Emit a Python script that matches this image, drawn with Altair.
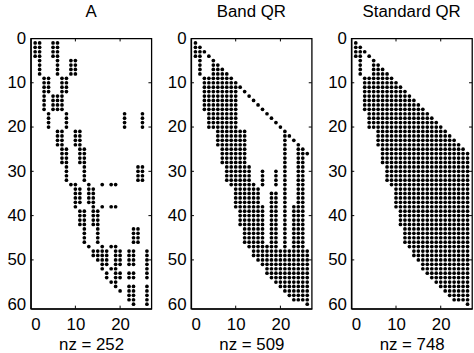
import altair as alt
import pandas as pd

titles = ["A", "Band QR", "Standard QR"]
nz_labels = ["nz = 252", "nz = 509", "nz = 748"]
x_ticks = [0, 10, 20]
y_ticks = [0, 10, 20, 30, 40, 50, 60]
x_domain = [0, 27]
y_domain = [0, 61]

# Each row (1..60): list of (first col, last col) runs of nonzeros
A_runs = [
    [(1, 2), (5, 6)], [(1, 2), (5, 6)], [(1, 2), (5, 6)], [(1, 2), (5, 6)],
    [(2, 2), (6, 6), (9, 10)], [(2, 2), (6, 6), (9, 10)], [(2, 2), (6, 6), (9, 10)], [(2, 2), (6, 6), (9, 10)],
    [(3, 4), (7, 8)], [(3, 4), (7, 8)], [(3, 4), (7, 8)], [(3, 4), (7, 8)],
    [(3, 3), (5, 7)], [(3, 3), (5, 7)], [(3, 3), (5, 7)], [(3, 3), (5, 7)],
    [(4, 4), (8, 8), (21, 21), (25, 25)], [(4, 4), (8, 8), (21, 21), (25, 25)],
    [(4, 4), (8, 8), (21, 21), (25, 25)], [(4, 4), (8, 8), (21, 21), (25, 25)],
    [(6, 7), (10, 11)], [(6, 7), (10, 11)], [(6, 7), (10, 11)], [(6, 7), (10, 11)],
    [(7, 8), (11, 12)], [(7, 8), (11, 12)], [(7, 8), (11, 12)], [(7, 8), (11, 12)],
    [(8, 8), (12, 12), (24, 25)], [(8, 8), (12, 12), (24, 25)], [(8, 8), (12, 12), (24, 25)], [(8, 8), (12, 12), (24, 25)],
    [(9, 10), (13, 13), (16, 16), (18, 19)],
    [(10, 11), (13, 14)], [(10, 11), (13, 14)], [(10, 11), (13, 14)], [(10, 11), (13, 14)],
    [(10, 10), (14, 14), (16, 16), (18, 19)],
    [(11, 12), (14, 15)], [(11, 12), (14, 15)], [(11, 12), (14, 15)], [(11, 12), (14, 15)],
    [(12, 12), (15, 15), (23, 24)], [(12, 12), (15, 15), (23, 24)], [(12, 12), (15, 15), (23, 24)], [(12, 12), (15, 15), (23, 24)],
    [(13, 13), (16, 16), (18, 19)],
    [(14, 17), (19, 20), (22, 23), (26, 26)], [(14, 17), (19, 20), (22, 23), (26, 26)],
    [(15, 17), (19, 20), (22, 23), (26, 26)], [(16, 17), (19, 20), (22, 23), (26, 26)],
    [(16, 16), (18, 19), (26, 26)],
    [(17, 17), (19, 20), (22, 23), (26, 26)], [(17, 17), (19, 20), (22, 23), (26, 26)],
    [(18, 19)],
    [(19, 19), (22, 23), (26, 26)], [(20, 20), (22, 23), (26, 26)],
    [(22, 23), (26, 26)], [(22, 23), (26, 26)], [(23, 23), (26, 26)],
]

band_runs = [
    [(1, 1)], [(1, 2)], [(1, 3)], [(1, 2), (4, 4)],
    [(2, 2), (5, 5)], [(2, 2), (5, 6)], [(2, 2), (5, 7)], [(2, 2), (5, 8)],
    [(3, 9)], [(3, 10)], [(3, 11)], [(3, 10), (12, 12)],
    [(3, 10), (13, 13)], [(3, 10), (14, 14)], [(3, 10), (15, 15)], [(3, 10), (16, 16)],
    [(4, 10), (17, 17)], [(4, 10), (18, 18)], [(4, 10), (19, 19)], [(4, 10), (20, 20)],
    [(6, 12), (21, 21)], [(6, 12), (21, 22)], [(6, 12), (21, 21), (23, 23)], [(6, 12), (21, 21), (24, 24)],
    [(7, 12), (21, 21), (24, 25)], [(7, 12), (21, 21), (24, 26)],
    [(7, 12), (21, 21), (24, 25)], [(7, 12), (21, 21), (24, 25)],
    [(8, 13), (21, 21), (24, 25)],
    [(8, 13), (16, 16), (19, 19), (21, 21), (24, 25)],
    [(8, 13), (16, 16), (19, 19), (21, 21), (24, 25)],
    [(8, 13), (16, 16), (19, 19), (21, 21), (24, 25)],
    [(9, 14), (16, 16), (19, 19), (21, 21), (24, 25)],
    [(10, 15), (21, 21), (24, 25)],
    [(10, 15), (18, 19), (21, 21), (24, 25)], [(10, 15), (18, 19), (21, 21), (24, 25)],
    [(10, 15), (18, 19), (21, 21), (24, 25)],
    [(10, 16), (18, 19), (21, 21), (23, 25)],
    [(11, 16), (18, 19), (21, 21), (23, 25)], [(11, 16), (18, 19), (21, 21), (23, 25)],
    [(11, 16), (18, 19), (21, 21), (23, 25)], [(11, 16), (18, 19), (21, 21), (23, 25)],
    [(12, 16), (18, 19), (21, 21), (23, 25)], [(12, 16), (18, 19), (21, 21), (23, 25)],
    [(12, 16), (18, 19), (21, 21), (23, 25)], [(12, 16), (18, 19), (21, 21), (23, 25)],
    [(13, 19), (21, 21), (23, 25)],
    [(14, 26)], [(14, 26)], [(15, 26)], [(16, 26)], [(17, 26)], [(17, 26)],
    [(18, 26)], [(19, 26)], [(20, 26)], [(21, 26)], [(22, 26)], [(23, 26)], [(26, 26)],
]

std_runs = [
    [(1, 1)], [(1, 2)], [(1, 3)], [(1, 2), (4, 4)],
    [(2, 2), (5, 5)], [(2, 2), (5, 6)], [(2, 2), (5, 7)], [(2, 2), (5, 8)],
    [(3, 9)], [(3, 10)], [(3, 11)], [(3, 12)], [(3, 13)], [(3, 14)], [(3, 15)], [(3, 16)],
    [(4, 17)], [(4, 18)], [(4, 19)], [(4, 20)],
    [(6, 21)], [(6, 22)], [(6, 23)], [(6, 24)],
    [(7, 25)], [(7, 26)], [(7, 26)], [(7, 26)],
    [(8, 26)], [(8, 26)], [(8, 26)], [(8, 26)], [(9, 26)],
    [(10, 26)], [(10, 26)], [(10, 26)], [(10, 26)], [(10, 26)],
    [(11, 26)], [(11, 26)], [(11, 26)], [(11, 26)],
    [(12, 26)], [(12, 26)], [(12, 26)], [(12, 26)],
    [(13, 26)], [(14, 26)], [(14, 26)], [(15, 26)], [(16, 26)], [(16, 26)],
    [(17, 26)], [(18, 26)], [(19, 26)], [(20, 26)], [(21, 26)], [(22, 26)], [(23, 26)], [(26, 26)],
]


def to_points(runs):
    recs = []
    for i, row in enumerate(runs, start=1):
        for a, b in row:
            for c in range(a, b + 1):
                recs.append({"row": i, "col": c})
    return pd.DataFrame(recs)


FONT = "Liberation Sans"
W, H = 122, 273


def panel(runs, title, xlabel):
    df = to_points(runs)
    xs = alt.Scale(domain=x_domain, nice=False, zero=False)
    ys = alt.Scale(domain=y_domain, nice=False, zero=False, reverse=True)
    pts = alt.Chart(df).mark_circle(size=14, color="black", opacity=1).encode(
        x=alt.X("col:Q", scale=xs,
                axis=alt.Axis(values=x_ticks, title=xlabel, ticks=False, grid=False,
                              labelFontSize=17, titleFontSize=17, titleFontWeight="normal",
                              labelPadding=8, titlePadding=4, labelFont=FONT, titleFont=FONT,
                              labelColor="black", titleColor="black", domainColor="black")),
        y=alt.Y("row:Q", scale=ys,
                axis=alt.Axis(values=y_ticks, title=None, ticks=False, grid=False,
                              labelFontSize=17, labelPadding=5, labelFont=FONT,
                              labelColor="black", domainColor="black")),
    )
    xt = pd.DataFrame({"v": x_ticks[1:]})
    yt = pd.DataFrame({"v": y_ticks[1:-1]})
    tb = alt.Chart(xt).mark_rule(color="black").encode(x=alt.X("v:Q", scale=xs), y=alt.value(H), y2=alt.value(H - 3))
    tt = alt.Chart(xt).mark_rule(color="black").encode(x=alt.X("v:Q", scale=xs), y=alt.value(0), y2=alt.value(3))
    tl = alt.Chart(yt).mark_rule(color="black").encode(y=alt.Y("v:Q", scale=ys), x=alt.value(0), x2=alt.value(3))
    tr = alt.Chart(yt).mark_rule(color="black").encode(y=alt.Y("v:Q", scale=ys), x=alt.value(W), x2=alt.value(W - 3))
    return alt.layer(pts, tb, tt, tl, tr).properties(
        width=W, height=H,
        title=alt.TitleParams(title, fontSize=17, fontWeight="normal", font=FONT, color="black", offset=9),
    )


chart = alt.hconcat(
    panel(A_runs, titles[0], nz_labels[0]),
    panel(band_runs, titles[1], nz_labels[1]),
    panel(std_runs, titles[2], nz_labels[2]),
    spacing=40, bounds="flush",
).properties(
    padding={"left": 6, "top": 0, "right": 0, "bottom": 0},
).configure_view(stroke="black", strokeWidth=1.3).configure_axis(domainWidth=1.3)

chart.save("out.html", embed_options={"renderer": "svg", "actions": False})
